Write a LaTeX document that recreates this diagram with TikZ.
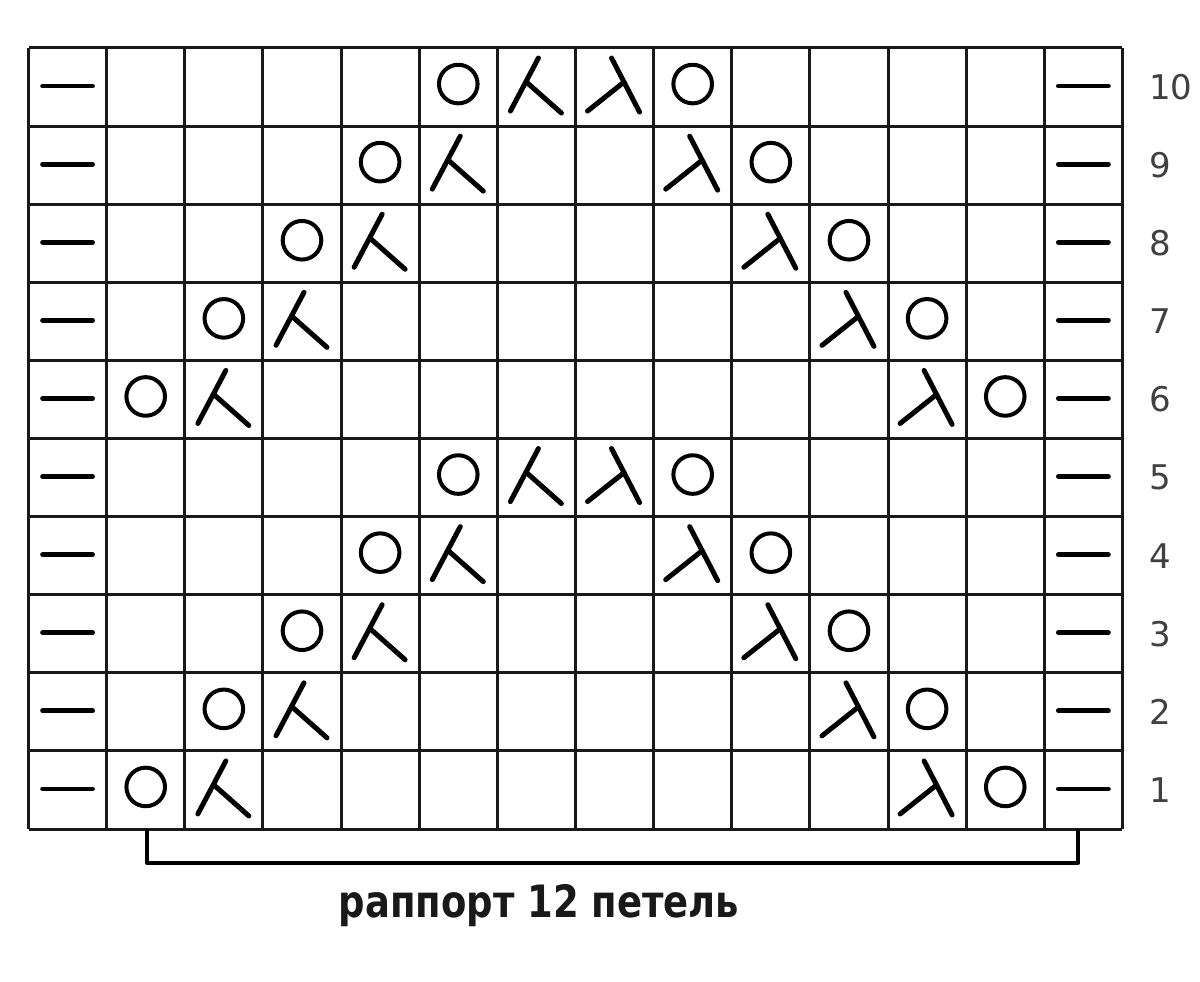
\documentclass[tikz,border=0pt]{standalone}
\usepackage{fontspec}
\setmainfont{DejaVu Sans}
\begin{document}
\begin{tikzpicture}[x=1pt,y=-1pt,line join=round,
  gridline/.style={line width=3pt,black!90},
  sym/.style={line width=5pt,black,line cap=round},
  purl/.pic={\draw[line width=4.8pt,line cap=round] (-25,-1) -- (25,-1);},
  yarnover/.pic={\draw[line width=4pt] (0,-3) circle (19.3);},
  kleft/.pic={\draw[sym] (2,-29) -- (-26,24); \draw[sym] (-10,-5) -- (25,26);},
  kright/.pic={\draw[sym] (-3,-29) -- (25,25); \draw[sym] (9.5,-5) -- (-27,24);},
  rownum/.style={anchor=west,font=\fontsize{34}{34}\selectfont,text=black!75,inner sep=0pt},
  caption/.style={font=\bfseries\fontsize{42}{42}\selectfont,text=black!90,inner sep=0pt,anchor=base}
]
\useasboundingbox (0,0) rectangle (1200,982);
\fill[white] (0,0) rectangle (1200,982);
\def\gx{28.5}\def\gy{48}\def\cw{78.14}\def\rh{78.1}
% grid
\foreach \i in {0,...,14}
  \draw[gridline] ({\gx+\i*\cw},{\gy}) -- ({\gx+\i*\cw},{\gy+10*\rh});
\foreach \j in {0,...,10}
  \draw[gridline] ({\gx},{\gy+\j*\rh}) -- ({\gx+14*\cw},{\gy+\j*\rh});
% purl edge stitches and row numbers
\foreach \r in {1,...,10}{
  \pgfmathsetmacro{\yy}{\gy+(10-\r+0.5)*\rh}
  \pic at ({\gx+0.5*\cw},\yy) {purl};
  \pic at ({\gx+13.5*\cw},\yy) {purl};
  \node[rownum] (n\r) at (1149,\yy) {\r};
}
% pattern
\foreach \d in {0,...,4}{
  \foreach \top in {10,5}{
    \pgfmathsetmacro{\yy}{\gy+(10-\top+\d+0.5)*\rh}
    \pic at ({\gx+(5-\d+0.5)*\cw},\yy) {yarnover};
    \pic at ({\gx+(6-\d+0.5)*\cw},\yy) {kleft};
    \pic at ({\gx+(7+\d+0.5)*\cw},\yy) {kright};
    \pic at ({\gx+(8+\d+0.5)*\cw},\yy) {yarnover};
  }
}
% bracket
\coordinate (bl) at (147,829);
\coordinate (br) at (1078,829);
\draw[line width=4pt] (bl) -- (147,863) -- (1078,863) -- (br);
\node[caption] (cap) at (539,917) {\scalebox{0.88}[1.06]{раппорт 12 петель}};
\end{tikzpicture}
\end{document}
